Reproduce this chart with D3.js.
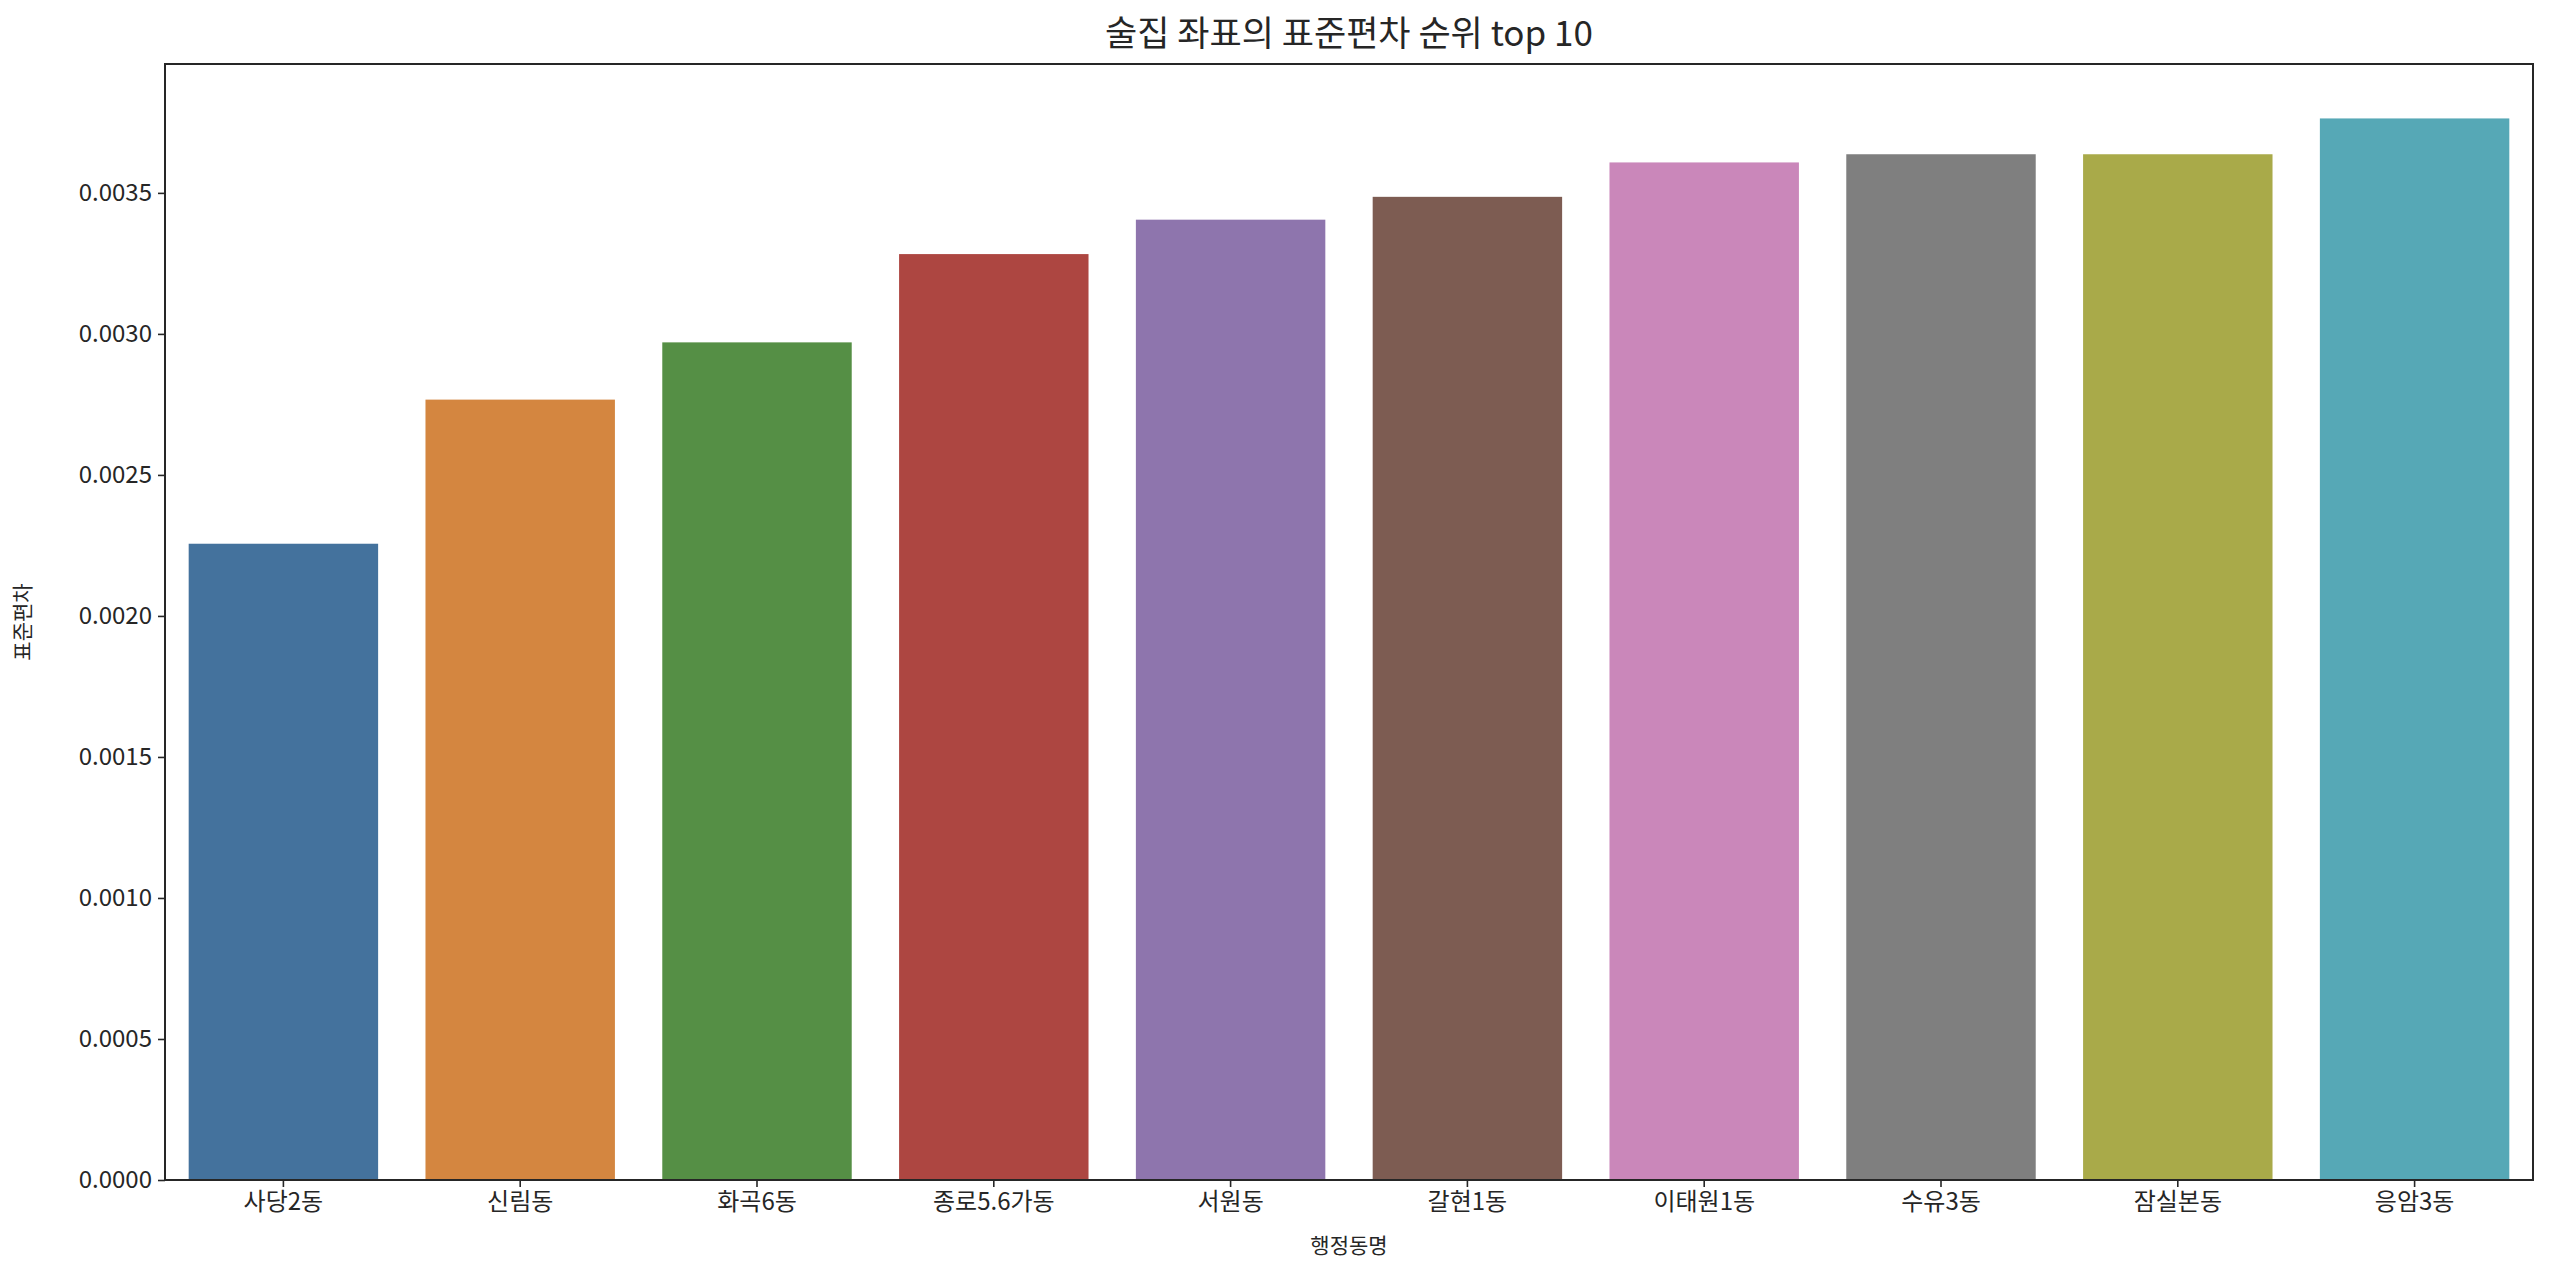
<!DOCTYPE html><html><head><meta charset="utf-8"><script src="https://cdn.jsdelivr.net/npm/d3@7"></script>
<style>body{margin:0;background:#fff}text{font-family:"Noto Sans CJK KR","DejaVu Sans",sans-serif;fill:#262626}</style></head><body><svg id="c" width="2566" height="1278"></svg><script>
const categories=["사당2동","신림동","화곡6동","종로5.6가동","서원동","갈현1동","이태원1동","수유3동","잠실본동","응암3동"];
const values=[0.002256,0.002767,0.00297,0.003283,0.003405,0.003486,0.003608,0.003637,0.003637,0.003764];
const colors=["#44729d","#d48640","#558f45","#ad4641","#8e75ad","#7d5c52","#ca87ba","#7f7f7f","#a9aa49","#56a8b6"];
const yTicks=[0,0.0005,0.001,0.0015,0.002,0.0025,0.003,0.0035];
const svg=d3.select("#c"),L=165,R=2533,T=64,B=1180;
const x=d3.scaleBand().domain(categories).range([L,R]).paddingInner(0.2).paddingOuter(0.1);
const y=d3.scaleLinear().domain([0,0.003957]).range([B,T]);
svg.selectAll("rect.b").data(values).join("rect").attr("x",(d,i)=>x(categories[i])).attr("width",x.bandwidth())
 .attr("y",d=>y(d)).attr("height",d=>B-y(d)).attr("fill",(d,i)=>colors[i]);
const ya=svg.append("g").attr("transform",`translate(${L},0)`).call(d3.axisLeft(y).tickValues(yTicks).tickFormat(d3.format(".4f")).tickSize(7).tickPadding(6));
const xa=svg.append("g").attr("transform",`translate(0,${B})`).call(d3.axisBottom(x).tickSize(7).tickPadding(6));
[ya,xa].forEach(a=>{a.select(".domain").remove();a.selectAll("text").style("font-size","24px");a.selectAll("line").attr("stroke","#262626").attr("stroke-width",1.6)});
svg.append("rect").attr("x",L).attr("y",T).attr("width",R-L).attr("height",B-T).attr("fill","none").attr("stroke","#262626").attr("stroke-width",2);
svg.append("text").attr("x",(L+R)/2).attr("y",T-18).attr("text-anchor","middle").style("font-size","35px").text("술집 좌표의 표준편차 순위 top 10");
svg.append("text").attr("x",(L+R)/2).attr("y",1253).attr("text-anchor","middle").style("font-size","21px").text("행정동명");
svg.append("text").attr("transform",`translate(30,${(T+B)/2}) rotate(-90)`).attr("text-anchor","middle").style("font-size","21px").text("표준편차");
</script></body></html>
